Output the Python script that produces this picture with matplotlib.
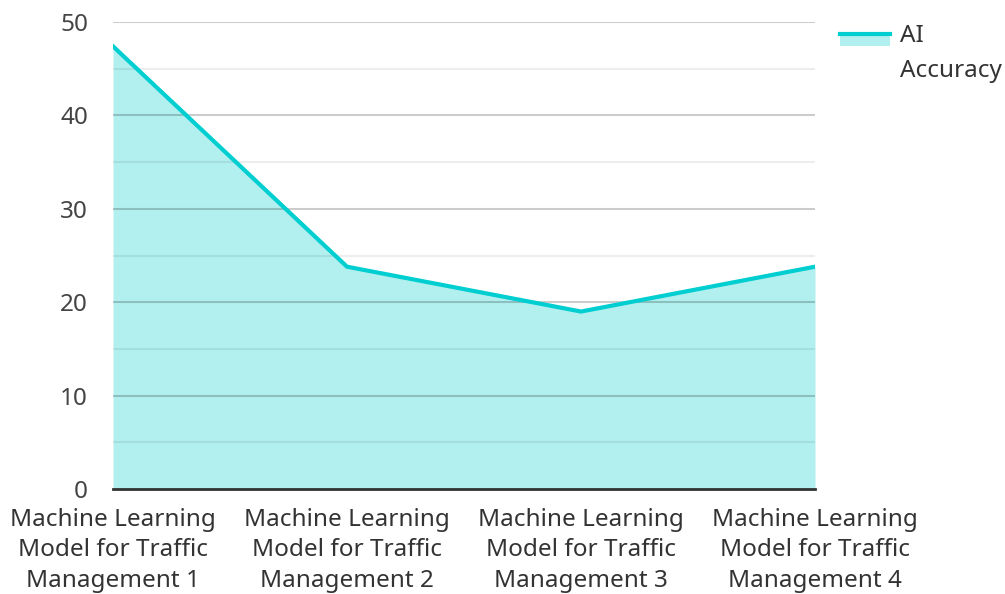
import numpy as np
import matplotlib.pyplot as plt
from matplotlib.patches import Rectangle
from matplotlib.lines import Line2D

plt.rcParams['font.family'] = ['Noto Sans', 'DejaVu Sans']

# Data
categories = ["Machine Learning\nModel for Traffic\nManagement 1",
              "Machine Learning\nModel for Traffic\nManagement 2",
              "Machine Learning\nModel for Traffic\nManagement 3",
              "Machine Learning\nModel for Traffic\nManagement 4"]
accuracy = [47.4, 23.8, 19.0, 23.8]
series_name = "AI\nAccuracy"

line_col = "#00CED1"
fill_col = "#B2EFEF"

W, H = 1005, 594
fig = plt.figure(figsize=(W / 100, H / 100), dpi=100)
ax = fig.add_axes([113 / W, 1 - 489 / H, 702 / W, 467 / H])

x = np.arange(len(categories))
ax.fill_between(x, 0, accuracy, color=fill_col, lw=0, zorder=1)
ax.plot(x, accuracy, color=line_col, lw=3, zorder=3, solid_joinstyle='miter')

ax.set_xlim(0, len(categories) - 1)
ax.set_ylim(0, 50)
ax.set_yticks(np.arange(0, 51, 10))
ax.set_yticks(np.arange(5, 50, 10), minor=True)
ax.set_xticks(x)
ax.set_xticklabels(categories, fontsize=17.5, color="#333333", linespacing=1.37)

# grid lines drawn over the fill
for v in np.arange(10, 51, 10):
    ax.axhline(v, color=(0, 0, 0, 0.2), lw=1.5, zorder=2)
for v in np.arange(5, 50, 10):
    ax.axhline(v, color=(0, 0, 0, 0.07), lw=1.5, zorder=2)

for s in ["top", "right", "left"]:
    ax.spines[s].set_visible(False)
ax.spines["bottom"].set_color("#333333")
ax.spines["bottom"].set_linewidth(2)
ax.spines["bottom"].set_zorder(4)
ax.tick_params(axis="both", which="both", length=0)
ax.tick_params(axis="y", labelsize=17.5, labelcolor="#444444", pad=18)
ax.tick_params(axis="x", pad=13.5)

# legend (area swatch: line on top of a light patch), label wrapped on two lines
fig.add_artist(Rectangle((840 / W, 1 - 46 / H), 50 / W, 12 / H,
                         transform=fig.transFigure, facecolor=fill_col, lw=0))
fig.add_artist(Line2D([840 / W, 890 / W], [1 - 33.5 / H] * 2,
                      transform=fig.transFigure, color=line_col, lw=3))
for i, part in enumerate(series_name.split("\n")):
    fig.text(900 / W, 1 - (42.3 + 34.6 * i) / H, part, fontsize=17.5,
             color="#333333", va="baseline", ha="left")

fig.savefig("out.png", dpi=100)
